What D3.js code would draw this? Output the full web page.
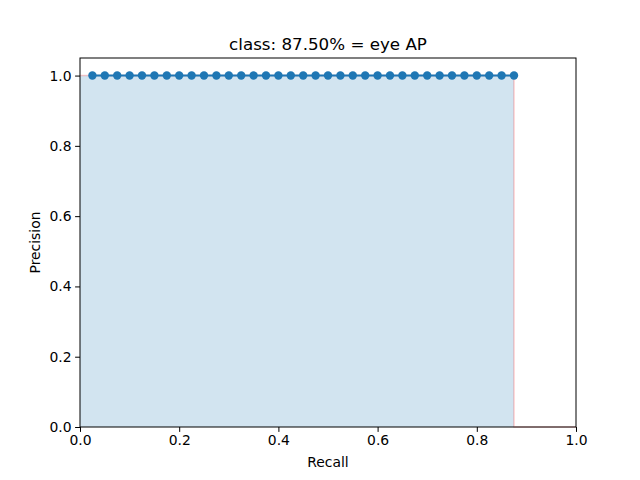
<!DOCTYPE html>
<html>
<head>
<meta charset="utf-8">
<script src="https://cdn.jsdelivr.net/npm/d3@7"></script>
<style>
  body { margin: 0; background: #fff; }
  text { font-family: "DejaVu Sans", sans-serif; fill: #000; }
  .axis path, .axis line { stroke: #000; stroke-width: 1; }
  .axis text { font-size: 13.9px; }
</style>
</head>
<body>
<div id="pr-chart"></div>
<script>
// Data
var recall = [
  0.025, 0.05, 0.075, 0.1, 0.125, 0.15, 0.175, 0.2, 0.225, 0.25,
  0.275, 0.3, 0.325, 0.35, 0.375, 0.4, 0.425, 0.45, 0.475, 0.5,
  0.525, 0.55, 0.575, 0.6, 0.625, 0.65, 0.675, 0.7, 0.725, 0.75,
  0.775, 0.8, 0.825, 0.85, 0.875
];
var precision = [
  1, 1, 1, 1, 1, 1, 1, 1, 1, 1,
  1, 1, 1, 1, 1, 1, 1, 1, 1, 1,
  1, 1, 1, 1, 1, 1, 1, 1, 1, 1,
  1, 1, 1, 1, 1
];
// interpolated envelope used for the shaded area
var envRecall = [0, 0.875, 0.875, 1];
var envPrecision = [1, 1, 0, 0];
var ticks = [0, 0.2, 0.4, 0.6, 0.8, 1.0];
var title = "class: 87.50% = eye AP";

var renderPRChart = function(config) {
  var width = 640;
  var height = 480;
  var margins = { top: 58, right: 64, bottom: 53, left: 80 };

  var chartWidth = width - margins.left - margins.right;
  var chartHeight = height - margins.top - margins.bottom;

  var containerElement = d3.select(config.container);
  containerElement.html("");

  var svg = containerElement
    .append("svg")
    .attr("width", width)
    .attr("height", height);

  var chartElement = svg
    .append("g")
    .attr("transform", `translate(${margins.left},${margins.top})`);

  var xScale = d3.scaleLinear().domain([0, 1]).range([0, chartWidth]);
  var yScale = d3.scaleLinear().domain([0, 1.05]).range([chartHeight, 0]);

  var points = recall.map((r, i) => ({ r, p: precision[i] }));
  var env = envRecall.map((r, i) => ({ r, p: envPrecision[i] }));

  // shaded area under the curve
  var fillPts = env.filter(d => d.p > 0);
  chartElement
    .append("path")
    .datum(fillPts)
    .attr("fill", "#1f77b4")
    .attr("fill-opacity", 0.2)
    .attr("stroke", "none")
    .attr(
      "d",
      d3.area()
        .x(d => xScale(d.r))
        .y0(yScale(0))
        .y1(d => yScale(d.p))
    );

  // red edge of the envelope
  chartElement
    .append("path")
    .datum(env)
    .attr("fill", "none")
    .attr("stroke", "red")
    .attr("stroke-opacity", 0.2)
    .attr("stroke-width", 1.5)
    .attr("d", d3.line().x(d => xScale(d.r)).y(d => yScale(d.p)));

  // PR line with markers
  chartElement
    .append("path")
    .datum(points)
    .attr("fill", "none")
    .attr("stroke", "#1f77b4")
    .attr("stroke-width", 2)
    .attr("d", d3.line().x(d => xScale(d.r)).y(d => yScale(d.p)));

  chartElement
    .append("g")
    .selectAll("circle")
    .data(points)
    .enter()
    .append("circle")
    .attr("cx", d => xScale(d.r))
    .attr("cy", d => yScale(d.p))
    .attr("r", 4.2)
    .attr("fill", "#1f77b4");

  // axes
  var xAxis = d3.axisBottom(xScale)
    .tickValues(ticks)
    .tickSize(4.9)
    .tickPadding(3.5)
    .tickFormat(d3.format(".1f"));
  var yAxis = d3.axisLeft(yScale)
    .tickValues(ticks)
    .tickSize(4.9)
    .tickPadding(3.5)
    .tickFormat(d3.format(".1f"));

  var gx = chartElement
    .append("g")
    .attr("class", "x axis")
    .attr("transform", `translate(0,${chartHeight})`)
    .call(xAxis);
  gx.select(".domain").remove();

  var gy = chartElement
    .append("g")
    .attr("class", "y axis")
    .call(yAxis);
  gy.select(".domain").remove();

  // frame
  chartElement
    .append("rect")
    .attr("x", 0)
    .attr("y", 0)
    .attr("width", chartWidth)
    .attr("height", chartHeight)
    .attr("fill", "none")
    .attr("stroke", "#000")
    .attr("stroke-width", 1);

  // labels
  svg.append("text")
    .attr("x", margins.left + chartWidth / 2)
    .attr("y", margins.top - 8)
    .attr("text-anchor", "middle")
    .style("font-size", "16.7px")
    .text(title);

  svg.append("text")
    .attr("x", margins.left + chartWidth / 2)
    .attr("y", 467)
    .attr("text-anchor", "middle")
    .style("font-size", "13.9px")
    .text("Recall");

  svg.append("text")
    .attr("transform", `translate(40,${margins.top + chartHeight / 2}) rotate(-90)`)
    .attr("text-anchor", "middle")
    .style("font-size", "13.9px")
    .text("Precision");
};

renderPRChart({ container: "#pr-chart" });
</script>
</body>
</html>
